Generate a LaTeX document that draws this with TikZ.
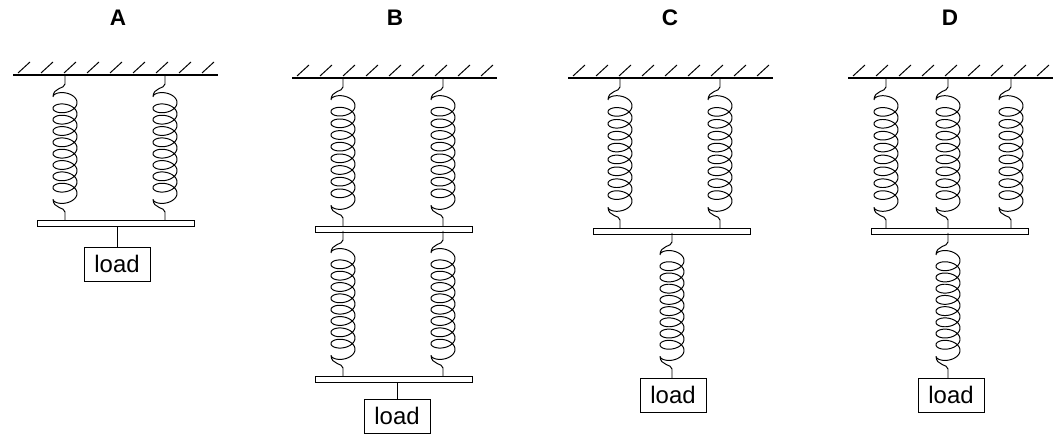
\documentclass[tikz,border=0pt]{standalone}
\usepackage{fontspec}
\setmainfont{Liberation Sans}
\tikzset{
  w/.style={line width=0.7pt},
  ceil/.style={line width=1.8pt},
  bar/.style={draw,line width=0.7pt,fill=white,minimum width=3.9cm,minimum height=0.15cm,inner sep=0pt},
  loadbox/.style={draw,line width=0.7pt,minimum width=1.65cm,minimum height=0.85cm,font=\fontsize{17}{17}\selectfont,inner sep=0pt},
  lbl/.style={font=\bfseries\fontsize{16}{16}\selectfont}
}
% \mysp{x}{ytop}{ybot}
\newcommand{\mysp}[3]{%
  \pgfmathsetmacro{\ya}{#2+22}\pgfmathsetmacro{\yb}{#3-22}%
  \draw[w] (#1,#2) -- (#1,#2+9) .. controls (#1,#2+14) and (#1-12,#2+12) .. (#1-12,\ya)
    plot[domain=0:9,samples=600,smooth,variable=\t] ({#1-12*cos(\t*360)},{\ya+(\yb-\ya)*\t/9-7*sin(\t*360)})
    .. controls (#1-12,#3-12) and (#1,#3-14) .. (#1,#3-9) -- (#1,#3);}
\newcommand{\myceil}[3]{% x1 x2 y
  \draw[ceil] (#1,#3) -- (#2,#3);
  \foreach \h in {0,...,8}{\draw[w] ({#1+5+\h*23},#3-2) -- ({#1+17+\h*23},#3-13);}}
\begin{document}
\begin{tikzpicture}[x=0.025cm,y=-0.025cm]
\useasboundingbox (0,0) rectangle (1055,439);
% A
\node[lbl] (la) at (118,18) {A};
\myceil{13}{218}{75}
\mysp{65}{75}{221}\mysp{165}{75}{221}
\node[bar] (ba) at (116,223) {};
\node[loadbox] (loada) at (117,264) {load};
\draw[w] (ba.south -| loada.north) -- (loada.north);
% B
\node[lbl] (lb) at (395,18) {B};
\myceil{292}{497}{78}
\mysp{343}{78}{227}\mysp{443}{78}{227}
\node[bar] (bb1) at (394,229) {};
\mysp{343}{231}{377}\mysp{443}{231}{377}
\node[bar] (bb2) at (394,379) {};
\node[loadbox] (loadb) at (397,416) {load};
\draw[w] (bb2.south -| loadb.north) -- (loadb.north);
% C
\node[lbl] (lc) at (670,18) {C};
\myceil{568}{773}{78}
\mysp{620}{78}{229}\mysp{720}{78}{229}
\node[bar] (bc) at (672,231) {};
\mysp{672}{233}{378}
\node[loadbox] (loadc) at (673,395) {load};
% D
\node[lbl] (ld) at (950,18) {D};
\myceil{848}{1053}{78}
\mysp{886}{78}{229}\mysp{948}{78}{229}\mysp{1011}{78}{229}
\node[bar] (bd) at (950,231) {};
\mysp{948}{233}{378}
\node[loadbox] (loadd) at (951,395) {load};
\end{tikzpicture}
\end{document}
